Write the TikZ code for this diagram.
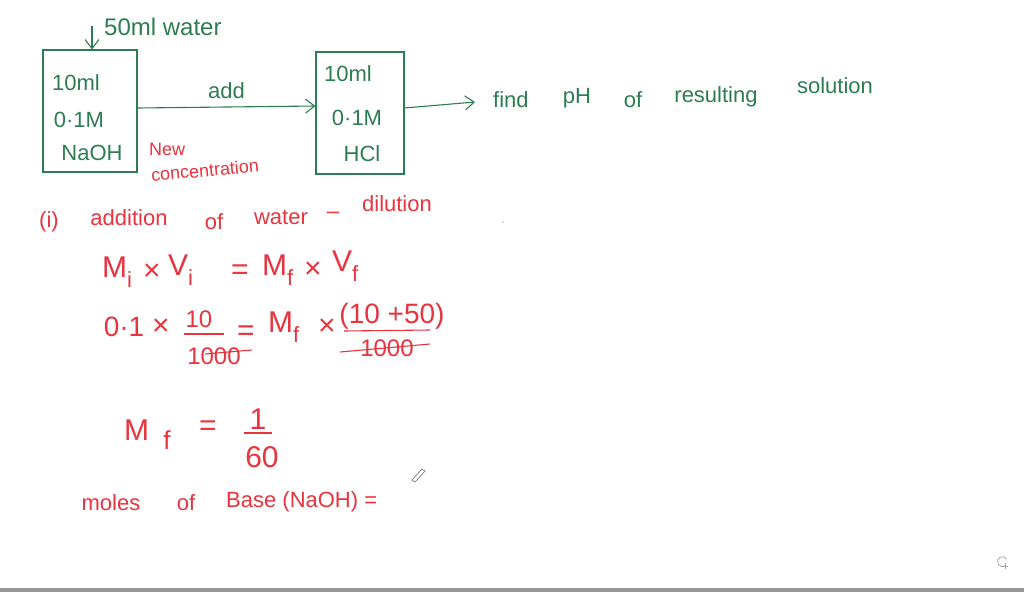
\documentclass[tikz,border=0pt]{standalone}
\usepackage{fontspec}
\setmainfont{Liberation Sans}
\usetikzlibrary{arrows.meta}
\definecolor{ink}{RGB}{46,125,82}
\definecolor{pen}{RGB}{232,52,62}
\definecolor{barg}{RGB}{150,150,150}
\newcommand{\sub}[1]{\raisebox{-0.35em}{\fontsize{22}{24}\selectfont #1}}
\begin{document}
\begin{tikzpicture}[x=1pt,y=-1pt,
  gline/.style={draw=ink,line width=1.1pt},
  garr/.style={draw=ink,line width=1.1pt,-{Straight Barb[length=9pt,width=14pt]}},
  gtxt/.style={text=ink,font=\fontsize{22}{24}\selectfont,inner sep=0pt},
  gbox/.style={draw=ink,line width=1.1pt,inner sep=0pt},
  rtxt/.style={text=pen,font=\fontsize{22}{24}\selectfont,inner sep=0pt},
  rbig/.style={text=pen,font=\fontsize{30}{32}\selectfont,inner sep=0pt},
  rline/.style={draw=pen,line width=1.1pt}]
\useasboundingbox (0,0) rectangle (1024,592);
\fill[white] (0,0) rectangle (1024,592);
\fill[barg] (0,588) rectangle (1024,592);

% green boxes
\node[gbox,minimum width=94pt,minimum height=122pt] (box1) at (90,111) {};
\node[gbox,minimum width=88pt,minimum height=122pt] (box2) at (360,113) {};
\node[gtxt] (b1a) at (76,83) {10ml};
\node[gtxt] (b1b) at (79,120) {0·1M};
\node[gtxt] (b1c) at (92,153) {NaOH};
\node[gtxt] (b2a) at (348,74) {10ml};
\node[gtxt] (b2b) at (357,118) {0·1M};
\node[gtxt] (b2c) at (362,154) {HCl};

% water arrow
\coordinate (wtop) at (92,26);
\draw[garr] (wtop) -- (wtop |- box1.north);
\node[gtxt,anchor=west,font=\fontsize{24}{26}\selectfont] (water) at (104,27) {50ml water};

% add arrow
\draw[garr] (box1.east |- 0,108) -- (box2.west |- 0,106) node[midway,above=8pt,gtxt] (add) {add};
\coordinate (outend) at (475,102);
\draw[garr] (box2.east |- 0,108) -- (outend);

% find pH text
\node[gtxt,anchor=west] (find) at (493,100) {find};
\node[gtxt] (ph) at (577,98) {pH};
\node[gtxt] (of1) at (633,100) {of};
\node[gtxt] (res) at (716,97) {resulting};
\node[gtxt] (sol) at (835,86) {solution};

% red: new concentration
\node[rtxt,anchor=west,font=\fontsize{18}{20}\selectfont] (new) at (149,149) {New};
\node[rtxt,anchor=west,font=\fontsize{18}{20}\selectfont,rotate=5] (conc) at (151,175) {concentration};

% (i) addition of water - dilution
\node[rtxt] (i) at (49,222) {(i)};
\node[rtxt] (addn) at (129,218) {addition};
\node[rtxt] (of2) at (214,222) {of};
\node[rtxt] (wat) at (281,217) {water};
\node[rtxt] (dash) at (333,215) {–};
\node[rtxt] (dil) at (397,204) {dilution};

% Mi x Vi = Mf x Vf
\node[rbig,anchor=west] (mi) at (102,272) {M\sub{i}};
\node[rbig] (x1) at (152,272) {×};
\node[rbig,anchor=west] (vi) at (168,270) {V\sub{i}};
\node[rbig] (eqa) at (240,272) {=};
\node[rbig,anchor=west] (mf) at (262,270) {M\sub{f}};
\node[rbig] (x2) at (313,270) {×};
\node[rbig,anchor=west] (vf) at (332,266) {V\sub{f}};

% 0.1 x 10/1000 = Mf x (10+50)/1000
\node[rbig,font=\fontsize{28}{30}\selectfont] (p1) at (124,327) {0·1};
\node[rbig] (x3) at (161,327) {×};
\node[rtxt,font=\fontsize{24}{26}\selectfont] (n1) at (199,319) {10};
\draw[rline] (184,334) -- (224,334);
\node[rtxt,font=\fontsize{24}{26}\selectfont] (d1) at (214,356) {1000};
\draw[rline] (205,354) -- (252,350);
\node[rbig] (eqb) at (246,333) {=};
\node[rbig,anchor=west] (mf2) at (268,327) {M\sub{f}};
\node[rbig] (x4) at (327,327) {×};
\node[rbig,font=\fontsize{28}{30}\selectfont] (n2) at (392,316) {(10 +50)};
\draw[rline] (344,331) -- (430,330);
\node[rtxt,font=\fontsize{24}{26}\selectfont] (d2) at (387,348) {1000};
\draw[rline] (340,352) -- (430,344);

% Mf = 1/60
\node[rbig,anchor=west] (m3) at (124,430) {M};
\node[rbig] (f3) at (167,440) {\fontsize{26}{28}\selectfont f};
\node[rbig] (eqc) at (208,428) {=};
\node[rbig] (one) at (258,419) {1};
\draw[rline] (244,433) -- (272,433);
\node[rbig] (sixty) at (262,457) {60};

% moles of base
\node[rtxt] (moles) at (111,503) {moles};
\node[rtxt] (of3) at (186,503) {of};
\node[rtxt,anchor=west] (base) at (226,502) {Base (NaOH) =};

% pencil cursor
\draw[gray,line width=0.7pt] (412,480) -- (422,469) -- (425,471) -- (415,482) -- cycle;

% stray dot and corner icon
\fill[gray!60] (503,222) circle (0.8);
\draw[gray!70,line width=0.8pt] (1005,566) arc (60:330:5);
\draw[gray!70,line width=0.8pt] (1005,563) -- (1005,569) (1002,566) -- (1008,566);
\end{tikzpicture}
\end{document}
